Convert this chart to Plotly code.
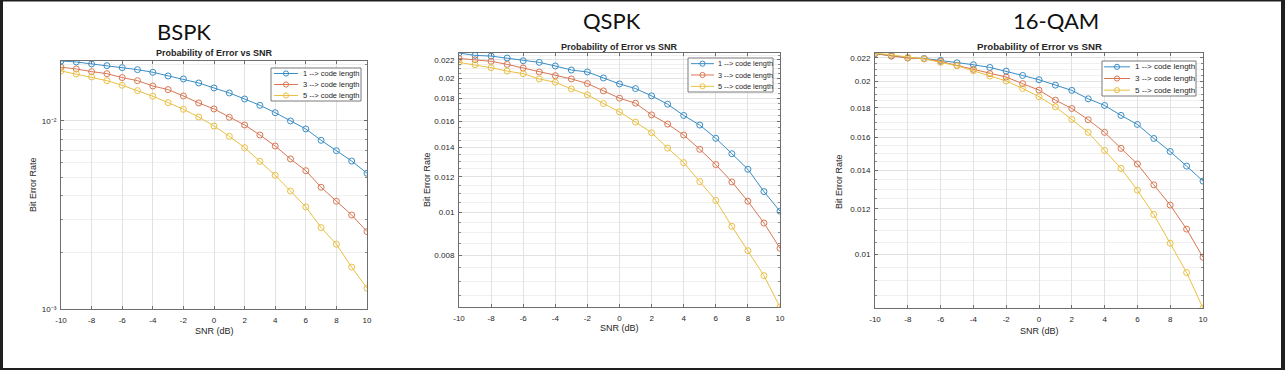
import numpy as np
import plotly.graph_objects as go

W, H = 1285, 370

snr = list(range(-10, 11))
series_names = ["1 --> code length", "3 --> code length", "5 --> code length"]
panel_titles = ["BSPK", "QSPK", "16-QAM"]
plot_title = "Probability of Error vs SNR"
x_title = "SNR (dB)"
y_title = "Bit Error Rate"

bpsk_cl1 = [0.02084, 0.02060, 0.02010, 0.01968, 0.01921, 0.01875, 0.01815, 0.01735, 0.01673, 0.01592, 0.01498,
            0.01409, 0.01309, 0.01211, 0.01107, 0.01000, 0.00907, 0.00789, 0.00695, 0.00612, 0.00527]
bpsk_cl3 = [0.01930, 0.01891, 0.01830, 0.01785, 0.01701, 0.01638, 0.01535, 0.01468, 0.01358, 0.01247, 0.01158,
            0.01046, 0.00952, 0.00842, 0.00736, 0.00628, 0.00544, 0.00444, 0.00374, 0.00316, 0.00258]
bpsk_cl5 = [0.01845, 0.01778, 0.01714, 0.01638, 0.01548, 0.01450, 0.01353, 0.01252, 0.01154, 0.01050, 0.00940,
            0.00829, 0.00721, 0.00610, 0.00514, 0.00424, 0.00349, 0.00271, 0.00221, 0.00167, 0.00129]

qpsk_cl1 = [0.02278, 0.02250, 0.02242, 0.02219, 0.02189, 0.02170, 0.02130, 0.02086, 0.02065, 0.02002, 0.01941,
            0.01895, 0.01825, 0.01748, 0.01649, 0.01569, 0.01465, 0.01353, 0.01248, 0.01112, 0.01005]
qpsk_cl3 = [0.02215, 0.02200, 0.02182, 0.02148, 0.02108, 0.02065, 0.02026, 0.01992, 0.01945, 0.01872, 0.01803,
            0.01757, 0.01654, 0.01577, 0.01490, 0.01384, 0.01279, 0.01169, 0.01058, 0.00945, 0.00829]
qpsk_cl5 = [0.02170, 0.02144, 0.02111, 0.02075, 0.02047, 0.01992, 0.01958, 0.01892, 0.01835, 0.01754, 0.01680,
            0.01593, 0.01508, 0.01393, 0.01292, 0.01171, 0.01062, 0.00929, 0.00819, 0.00720, 0.00612]

qam_cl1 = [0.02236, 0.02215, 0.02200, 0.02194, 0.02177, 0.02156, 0.02139, 0.02116, 0.02085, 0.02049, 0.02014,
           0.01971, 0.01930, 0.01866, 0.01817, 0.01746, 0.01684, 0.01592, 0.01511, 0.01425, 0.01342]
qam_cl3 = [0.02236, 0.02215, 0.02197, 0.02190, 0.02168, 0.02133, 0.02100, 0.02064, 0.02036, 0.01983, 0.01932,
           0.01856, 0.01795, 0.01716, 0.01631, 0.01530, 0.01437, 0.01322, 0.01219, 0.01107, 0.00989]
qam_cl5 = [0.02242, 0.02224, 0.02203, 0.02190, 0.02159, 0.02130, 0.02088, 0.02044, 0.02004, 0.01945, 0.01882,
           0.01807, 0.01718, 0.01631, 0.01517, 0.01412, 0.01294, 0.01174, 0.01046, 0.00930, 0.00807]

x_tickvals = [-10, -8, -6, -4, -2, 0, 2, 4, 6, 8, 10]
x_ticktext = ["-10", "-8", "-6", "-4", "-2", "0", "2", "4", "6", "8", "10"]

bpsk_yticks = [0.001, 0.01]
bpsk_yticktext = ["10\u207b\u00b3", "10\u207b\u00b2"]
bpsk_yminor = [0.002, 0.003, 0.004, 0.005, 0.006, 0.007, 0.008, 0.009, 0.02]

lin_yticks = [0.008, 0.01, 0.012, 0.014, 0.016, 0.018, 0.02, 0.022]
lin_yticktext = ["0.008", "0.01", "0.012", "0.014", "0.016", "0.018", "0.02", "0.022"]

colors = ["#3a8ec6", "#d97753", "#eac043"]

TXT = "#262626"
FONT = "Liberation Sans, Arial, sans-serif"


def px(x):
    return x / W


def py(y):
    return 1 - y / H


# layout geometry (pixels): plot box, heading, subtitle, axis titles, legend box
panels = [
    dict(data=[bpsk_cl1, bpsk_cl3, bpsk_cl5], box=(61, 61, 367, 309), head=(184, 31), sub=(214, 53, 9),
         xt=(214, 331), yt=(33, 185), leg=(271, 68, 361, 101), leg_line=(274, 298), leg_text=301, legfs=7.5,
         yticks=bpsk_yticks, ytext=bpsk_yticktext, yminor=bpsk_yminor),
    dict(data=[qpsk_cl1, qpsk_cl3, qpsk_cl5], box=(459, 53, 780, 307), head=(612, 21), sub=(619, 47, 9),
         xt=(619, 328), yt=(427, 180), leg=(688, 58, 773, 92), leg_line=(691, 714), leg_text=716, legfs=7.3,
         yticks=lin_yticks, ytext=lin_yticktext, yminor=None),
    dict(data=[qam_cl1, qam_cl3, qam_cl5], box=(875, 53, 1203, 308), head=(1056, 21), sub=(1039, 46, 9.7),
         xt=(1039, 331), yt=(839, 182), leg=(1102, 61, 1196, 96), leg_line=(1104, 1130), leg_text=1133, legfs=8,
         yticks=lin_yticks, ytext=lin_yticktext, yminor=None),
]

fig = go.Figure()
annotations = []
shapes = []

for i, p in enumerate(panels):
    k = "" if i == 0 else str(i + 1)
    xa, ya = "x" + k, "y" + k
    for j, ser in enumerate(p["data"]):
        fig.add_trace(go.Scatter(
            x=snr, y=ser, xaxis=xa, yaxis=ya, mode="lines+markers", name=series_names[j],
            showlegend=False,
            line=dict(color=colors[j], width=1),
            marker=dict(symbol="circle-open", size=6, color=colors[j], line=dict(width=1, color=colors[j])),
        ))
    x0, y0, x1, y1 = p["box"]
    allv = [v for s in p["data"] for v in s]
    if i == 0:
        yr = [-3, np.log10(max(allv))]
    else:
        yr = [np.log10(min(allv)), np.log10(max(allv))]
    if p["yminor"] is None:
        lo, hi = min(allv), max(allv)
        minor = [round(v, 4) for v in np.arange(0.0060, 0.0235, 0.0005)
                 if lo <= v <= hi and all(abs(v - t) > 1e-6 for t in p["yticks"])]
    else:
        minor = p["yminor"]
    fig.update_layout(**{
        "xaxis" + k: dict(domain=[px(x0), px(x1)], anchor=ya, range=[-10, 10], tickmode="array",
                          tickvals=x_tickvals, ticktext=x_ticktext, showgrid=True, gridcolor="#e2e2e2",
                          gridwidth=1, zeroline=False, showline=True, linecolor="#6e6e6e", linewidth=1,
                          mirror="ticks", ticks="inside", ticklen=3, tickcolor="#6e6e6e",
                          ticklabelstandoff=3, automargin=False,
                          tickfont=dict(family=FONT, size=8, color=TXT)),
        "yaxis" + k: dict(domain=[py(y1), py(y0)], anchor=xa, type="log", range=yr, tickmode="array",
                          tickvals=p["yticks"], ticktext=p["ytext"], showgrid=True, gridcolor="#e2e2e2",
                          gridwidth=1, zeroline=False, showline=True, linecolor="#6e6e6e", linewidth=1,
                          mirror="ticks", ticks="inside", ticklen=3, tickcolor="#6e6e6e",
                          ticklabelstandoff=2, automargin=False,
                          tickfont=dict(family=FONT, size=8, color=TXT),
                          minor=dict(tickmode="array", tickvals=minor, showgrid=True, gridcolor="#f0f0f0",
                                     ticks="inside", ticklen=2, tickcolor="#8a8a8a")),
    })
    hx, hy = p["head"]
    annotations.append(dict(text=panel_titles[i], x=px(hx), y=py(hy), xref="paper", yref="paper",
                            showarrow=False, xanchor="center", yanchor="middle",
                            font=dict(family="Lato, Carlito, sans-serif", size=22, color="#111")))
    sx, sy, sfs = p["sub"]
    annotations.append(dict(text="<b>" + plot_title + "</b>", x=px(sx), y=py(sy), xref="paper", yref="paper",
                            showarrow=False, xanchor="center", yanchor="middle",
                            font=dict(family=FONT, size=sfs, color=TXT)))
    tx, ty = p["xt"]
    annotations.append(dict(text=x_title, x=px(tx), y=py(ty), xref="paper", yref="paper", showarrow=False,
                            xanchor="center", yanchor="middle", font=dict(family=FONT, size=9, color=TXT)))
    yx, yy = p["yt"]
    annotations.append(dict(text=y_title, x=px(yx), y=py(yy), xref="paper", yref="paper", showarrow=False,
                            textangle=-90, xanchor="center", yanchor="middle",
                            font=dict(family=FONT, size=9, color=TXT)))
    # legend box
    lx0, ly0, lx1, ly1 = p["leg"]
    shapes.append(dict(type="rect", xref="paper", yref="paper", x0=px(lx0), x1=px(lx1), y0=py(ly0), y1=py(ly1),
                       line=dict(color="#7a7a7a", width=1), fillcolor="white", layer="above"))
    rowh = (ly1 - ly0) / 3.0
    la, lb = p["leg_line"]
    for j in range(3):
        ry = ly0 + rowh * (j + 0.5)
        shapes.append(dict(type="line", xref="paper", yref="paper", x0=px(la), x1=px(lb), y0=py(ry), y1=py(ry),
                           line=dict(color=colors[j], width=1), layer="above"))
        cx = (la + lb) / 2.0
        shapes.append(dict(type="circle", xref="paper", yref="paper", x0=px(cx - 2.6), x1=px(cx + 2.6),
                           y0=py(ry - 2.6), y1=py(ry + 2.6), line=dict(color=colors[j], width=1),
                           fillcolor="rgba(0,0,0,0)", layer="above"))
        annotations.append(dict(text=series_names[j], x=px(p["leg_text"]), y=py(ry), xref="paper", yref="paper",
                                showarrow=False, xanchor="left", yanchor="middle",
                                font=dict(family=FONT, size=p["legfs"], color=TXT)))

# dark screenshot frame
frame = "#1f1f1f"
for (a, b, c, d) in [(0, 0, 3, H), (0, 0, W, 1.5), (1281, 0, W, H), (0, 368, W, H)]:
    shapes.append(dict(type="rect", xref="paper", yref="paper", x0=px(a), x1=px(c), y0=py(d), y1=py(b),
                       line=dict(width=0), fillcolor=frame, layer="above"))

fig.update_layout(width=W, height=H, margin=dict(l=0, r=0, t=0, b=0, pad=0, autoexpand=False),
                  paper_bgcolor="white", plot_bgcolor="white", showlegend=False,
                  annotations=annotations, shapes=shapes)

fig.write_html(
    "out.html",
    config={"displayModeBar": False, "responsive": False},
    post_script=("document.documentElement.style.margin='0';document.body.style.margin='0';"
                 "document.body.style.overflow='hidden';"
                 "var gd=document.getElementById('{plot_id}');"
                 "gd.style.position='fixed';gd.style.left='0px';gd.style.top='0px';"),
)
